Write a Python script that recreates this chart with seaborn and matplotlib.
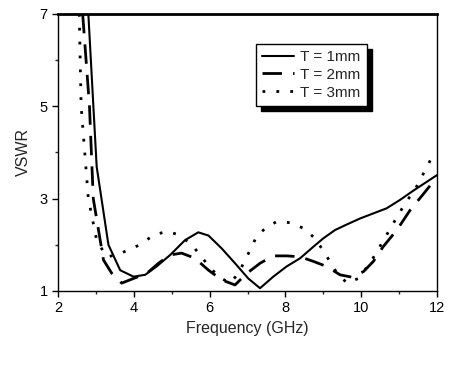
import pandas as pd
import matplotlib
matplotlib.use("Agg")
import matplotlib.pyplot as plt
import seaborn as sns
from matplotlib.ticker import FixedLocator, MultipleLocator

# Data
freq_1 = [2.80, 3.02, 3.33, 3.64, 3.99, 4.30, 4.60, 4.96, 5.35, 5.70, 5.97, 6.32, 6.67,
          7.02, 7.33, 7.68, 8.03, 8.39, 8.74, 9.00, 9.31, 9.62, 9.97, 10.32, 10.67,
          11.02, 11.37, 12.00]
vswr_1 = [7.00, 3.69, 2.00, 1.45, 1.31, 1.35, 1.53, 1.78, 2.10, 2.27, 2.20, 1.92, 1.60,
          1.27, 1.06, 1.31, 1.53, 1.71, 1.96, 2.14, 2.32, 2.44, 2.57, 2.68, 2.79,
          2.97, 3.17, 3.51]

freq_2 = [2.65, 2.83, 2.93, 3.20, 3.42, 3.68, 3.99, 4.34, 4.65, 4.96, 5.26, 5.61, 5.97,
          6.32, 6.67, 6.98, 7.33, 7.68, 8.03, 8.39, 8.74, 9.09, 9.44, 9.75, 10.06,
          10.32, 10.58, 10.94, 11.29, 11.64, 12.00]
vswr_2 = [7.00, 5.00, 3.00, 1.67, 1.38, 1.17, 1.27, 1.38, 1.60, 1.78, 1.82, 1.71, 1.45,
          1.24, 1.13, 1.38, 1.60, 1.76, 1.76, 1.74, 1.64, 1.53, 1.35, 1.30, 1.42,
          1.64, 1.96, 2.32, 2.75, 3.10, 3.47]

freq_3 = [2.56, 2.61, 2.80, 3.02, 3.28, 3.55, 3.86, 4.16, 4.52, 4.87, 5.22, 5.57, 5.92,
          6.23, 6.54, 6.76, 6.98, 7.24, 7.51, 7.77, 8.12, 8.47, 8.78, 9.04, 9.31,
          9.62, 9.92, 10.23, 10.54, 10.85, 11.11, 11.46, 11.90]
vswr_3 = [7.00, 5.00, 3.00, 2.10, 1.74, 1.78, 1.89, 2.00, 2.21, 2.29, 2.21, 1.96, 1.60,
          1.31, 1.17, 1.38, 1.74, 2.18, 2.39, 2.50, 2.48, 2.36, 2.14, 1.82, 1.45,
          1.17, 1.27, 1.60, 2.03, 2.47, 2.83, 3.26, 3.95]

labels = ["T = 1mm", "T = 2mm", "T = 3mm"]
y_ticks = [1, 3, 5, 7]
y_minor = [2, 4, 6]

df = pd.concat([
    pd.DataFrame({"Frequency": freq_1, "VSWR": vswr_1, "T": labels[0]}),
    pd.DataFrame({"Frequency": freq_2, "VSWR": vswr_2, "T": labels[1]}),
    pd.DataFrame({"Frequency": freq_3, "VSWR": vswr_3, "T": labels[2]}),
])

sns.set_style("ticks")
plt.rcParams['font.family'] = ['Liberation Sans', 'DejaVu Sans']

fig = plt.figure(figsize=(4.74, 3.66), dpi=100)
ax = fig.add_axes([0.1224, 0.205, 0.7996, 0.757])

styles = {
    labels[0]: dict(lw=1.5, dashes=()),
    labels[1]: dict(lw=2.0, dashes=(7, 4)),
    labels[2]: dict(lw=2.0, dashes=(1, 4)),
}

for lab in labels:
    sub = df[df["T"] == lab]
    sns.lineplot(data=sub, x="Frequency", y="VSWR", ax=ax, color="black",
                 label=lab, sort=False, estimator=None, **styles[lab])

ax.set_xlim(2, 12)
ax.set_ylim(1, 7)
ax.xaxis.set_major_locator(MultipleLocator(2))
ax.xaxis.set_minor_locator(MultipleLocator(1))
ax.yaxis.set_major_locator(FixedLocator(y_ticks))
ax.yaxis.set_minor_locator(FixedLocator(y_minor))
ax.tick_params(which="major", direction="out", length=4, width=1, labelsize=10.5, colors="black")
ax.tick_params(which="minor", direction="out", length=2.5, width=1)

for side in ["left", "bottom", "right"]:
    ax.spines[side].set_linewidth(1)
    ax.spines[side].set_color("black")
ax.spines["top"].set_linewidth(2)
ax.spines["top"].set_color("black")

ax.set_xlabel("Frequency (GHz)", fontsize=11.5)
ax.set_ylabel("VSWR", fontsize=11.5, labelpad=6)

leg = ax.legend(loc="upper left", bbox_to_anchor=(0.522, 0.892), borderaxespad=0,
                frameon=True, fancybox=False, fontsize=11, handlelength=2.1,
                handletextpad=0.4, labelspacing=0.25, borderpad=0.4,
                shadow={"ox": 4, "oy": -4, "color": "black", "alpha": 1})
leg.get_frame().set_edgecolor("black")
leg.get_frame().set_linewidth(1)

plt.savefig("out.png", dpi=100)
